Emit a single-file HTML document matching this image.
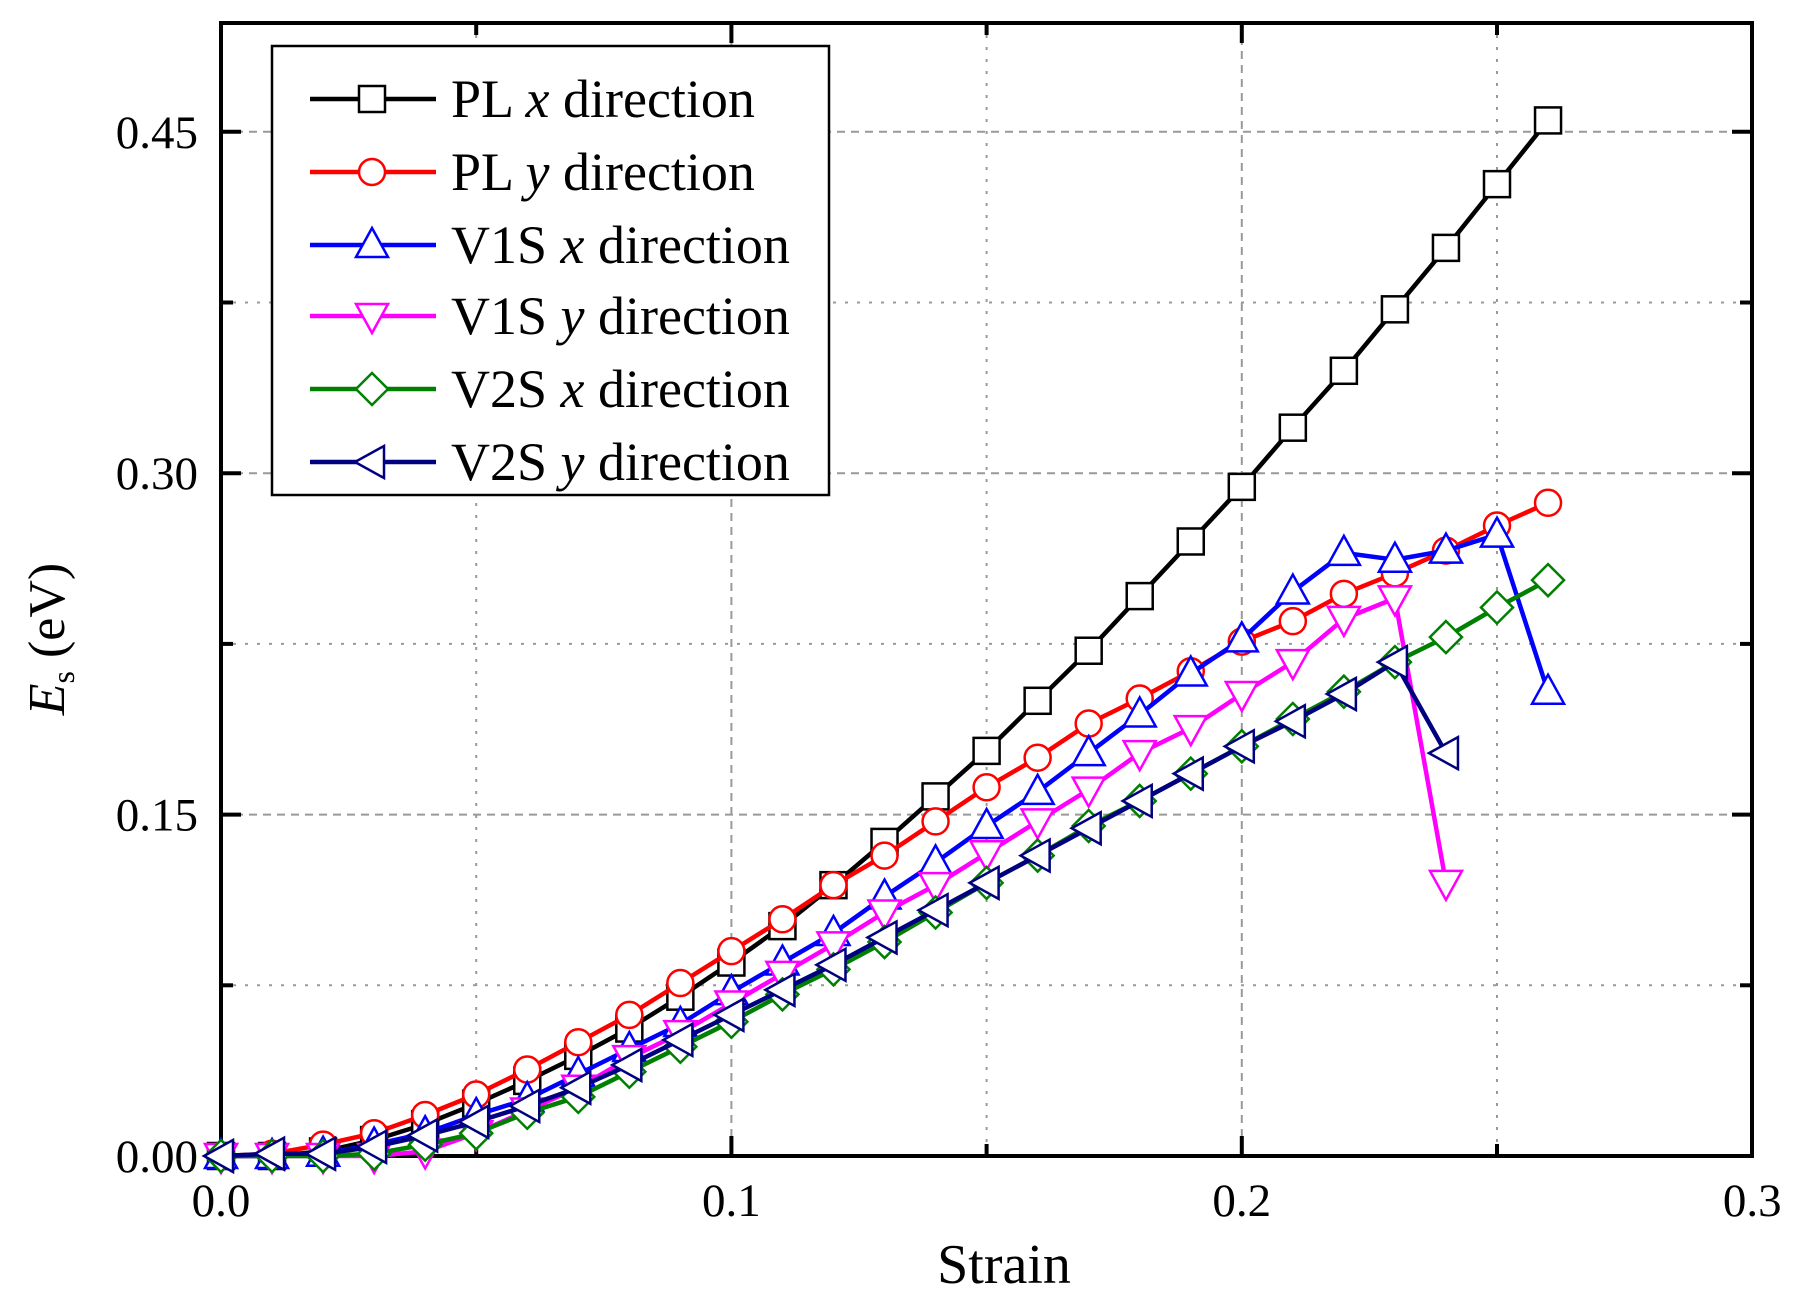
<!DOCTYPE html>
<html><head><meta charset="utf-8"><style>
html,body{margin:0;padding:0;background:#fff;}
svg{display:block;}
text{font-family:"Liberation Serif",serif;fill:#000;}
</style></head><body>
<svg id="s" width="1797" height="1302" xmlns="http://www.w3.org/2000/svg"></svg>
<script>
const s=document.getElementById('s');
const X0=221,KX=5104,Y0=1156,KY=2276;
const X=v=>X0+v*KX, Y=v=>Y0-v*KY;
let h='';
for(const v of [0.05,0.1,0.15,0.2,0.25]) h+=`<line x1="${X(v)}" y1="23" x2="${X(v)}" y2="${Y0}" stroke="#999" stroke-width="2" stroke-dasharray="${v==0.1||v==0.2?'8,6':'3,9'}"/>`;
for(const v of [0.075,0.15,0.225,0.3,0.375,0.45]) h+=`<line x1="${X0}" y1="${Y(v)}" x2="1752" y2="${Y(v)}" stroke="#999" stroke-width="2" stroke-dasharray="${[0.15,0.3,0.45].includes(v)?'8,6':'3,9'}"/>`;
for(const v of [0.05,0.1,0.15,0.2,0.25]){const L=(v==0.1||v==0.2)?20:12;
 h+=`<line x1="${X(v)}" y1="${Y0}" x2="${X(v)}" y2="${Y0-L}" stroke="#000" stroke-width="4"/>`;
 h+=`<line x1="${X(v)}" y1="23" x2="${X(v)}" y2="${23+L}" stroke="#000" stroke-width="4"/>`;}
for(const v of [0.075,0.15,0.225,0.3,0.375,0.45]){const L=([0.15,0.3,0.45].includes(v))?20:12;
 h+=`<line x1="${X0}" y1="${Y(v)}" x2="${X0+L}" y2="${Y(v)}" stroke="#000" stroke-width="4"/>`;
 h+=`<line x1="1752" y1="${Y(v)}" x2="${1752-L}" y2="${Y(v)}" stroke="#000" stroke-width="4"/>`;}
h+=`<rect x="${X0}" y="23" width="${1752-X0}" height="${Y0-23}" fill="none" stroke="#000" stroke-width="4"/>`;
for(const [v,t] of [[0,'0.00'],[0.15,'0.15'],[0.3,'0.30'],[0.45,'0.45']]) h+=`<text x="198" y="${Y(v)+16}" font-size="47" text-anchor="end">${t}</text>`;
for(const [v,t] of [[0,'0.0'],[0.1,'0.1'],[0.2,'0.2'],[0.3,'0.3']]) h+=`<text x="${X(v)}" y="1216" font-size="47" text-anchor="middle">${t}</text>`;
h+=`<text x="1004" y="1283" font-size="56" text-anchor="middle">Strain</text>`;
h+=`<text transform="translate(64,639) rotate(-90)" font-size="52" text-anchor="middle"><tspan font-style="italic">E</tspan><tspan font-size="32" dy="10">s</tspan><tspan dy="-10"> (eV)</tspan></text>`;
function mk(type,x,y,c){const r=15;
 if(type=='sq')return `<rect x="${x-r+2}" y="${y-r+2}" width="${2*r-4}" height="${2*r-4}" fill="#fff" stroke="${c}" stroke-width="2.5"/>`;
 if(type=='ci')return `<circle cx="${x}" cy="${y}" r="${r-2}" fill="#fff" stroke="${c}" stroke-width="2.5"/>`;
 if(type=='up')return `<polygon points="${x},${y-r-2} ${x+r+1},${y+r-3} ${x-r-1},${y+r-3}" fill="#fff" stroke="${c}" stroke-width="2.5"/>`;
 if(type=='dn')return `<polygon points="${x},${y+r+2} ${x+r+1},${y-r+3} ${x-r-1},${y-r+3}" fill="#fff" stroke="${c}" stroke-width="2.5"/>`;
 if(type=='di')return `<polygon points="${x},${y-r-1} ${x+r+1},${y} ${x},${y+r+1} ${x-r-1},${y}" fill="#fff" stroke="${c}" stroke-width="2.5"/>`;
 if(type=='lt')return `<polygon points="${x-r-2},${y} ${x+r-3},${y-r-1} ${x+r-3},${y+r+1}" fill="#fff" stroke="${c}" stroke-width="2.5"/>`;}
const S=[
 ['sq','#000',[0,0,0.002,0.007,0.014,0.023,0.033,0.044,0.056,0.070,0.085,0.101,0.119,0.138,0.158,0.178,0.200,0.222,0.246,0.270,0.294,0.320,0.345,0.372,0.399,0.427,0.455]],
 ['ci','#f00',[0,0.001,0.005,0.010,0.018,0.027,0.038,0.050,0.062,0.076,0.090,0.104,0.119,0.132,0.147,0.162,0.175,0.190,0.201,0.213,0.226,0.235,0.247,0.256,0.266,0.277,0.287]],
 ['up','#00f',[0,0,0.001,0.005,0.010,0.018,0.025,0.036,0.047,0.058,0.072,0.085,0.098,0.114,0.129,0.145,0.160,0.177,0.194,0.212,0.227,0.248,0.265,0.262,0.266,0.273,0.204]],
 ['dn','#f0f',[0,0,0,0,0.002,0.010,0.020,0.030,0.043,0.054,0.067,0.080,0.093,0.107,0.119,0.133,0.147,0.161,0.177,0.188,0.203,0.217,0.236,0.245,0.120]],
 ['di','#008000',[0,0,0,0.001,0.005,0.010,0.019,0.026,0.037,0.048,0.059,0.071,0.082,0.094,0.107,0.120,0.132,0.145,0.156,0.168,0.180,0.192,0.204,0.217,0.228,0.241,0.253]],
 ['lt','#000080',[0,0.001,0.001,0.004,0.009,0.015,0.022,0.030,0.040,0.051,0.062,0.073,0.084,0.096,0.108,0.120,0.132,0.144,0.156,0.168,0.180,0.191,0.203,0.217,0.177]]];
for(const [t,c,d] of S){const p=d.map((v,i)=>`${X(i*0.01).toFixed(1)},${Y(v).toFixed(1)}`).join(' ');
 h+=`<polyline points="${p}" fill="none" stroke="${c}" stroke-width="4.5" stroke-linejoin="round"/>`;
 d.forEach((v,i)=>h+=mk(t,X(i*0.01),Y(v),c));}
h+=`<rect x="272" y="46" width="557" height="449" fill="#fff" stroke="#000" stroke-width="2.5"/>`;
const names=[['PL ','x'],['PL ','y'],['V1S ','x'],['V1S ','y'],['V2S ','x'],['V2S ','y']];
[99,172,245,316,389,462].forEach((y,i)=>{const [t,c]=S[i];
 h+=`<line x1="310" y1="${y}" x2="436" y2="${y}" stroke="${c}" stroke-width="4.5"/>`+mk(t,372,y,c);
 h+=`<text x="451" y="${y+18}" font-size="54">${names[i][0]}<tspan font-style="italic">${names[i][1]}</tspan> direction</text>`;});
s.innerHTML=h;
</script>
</body></html>
